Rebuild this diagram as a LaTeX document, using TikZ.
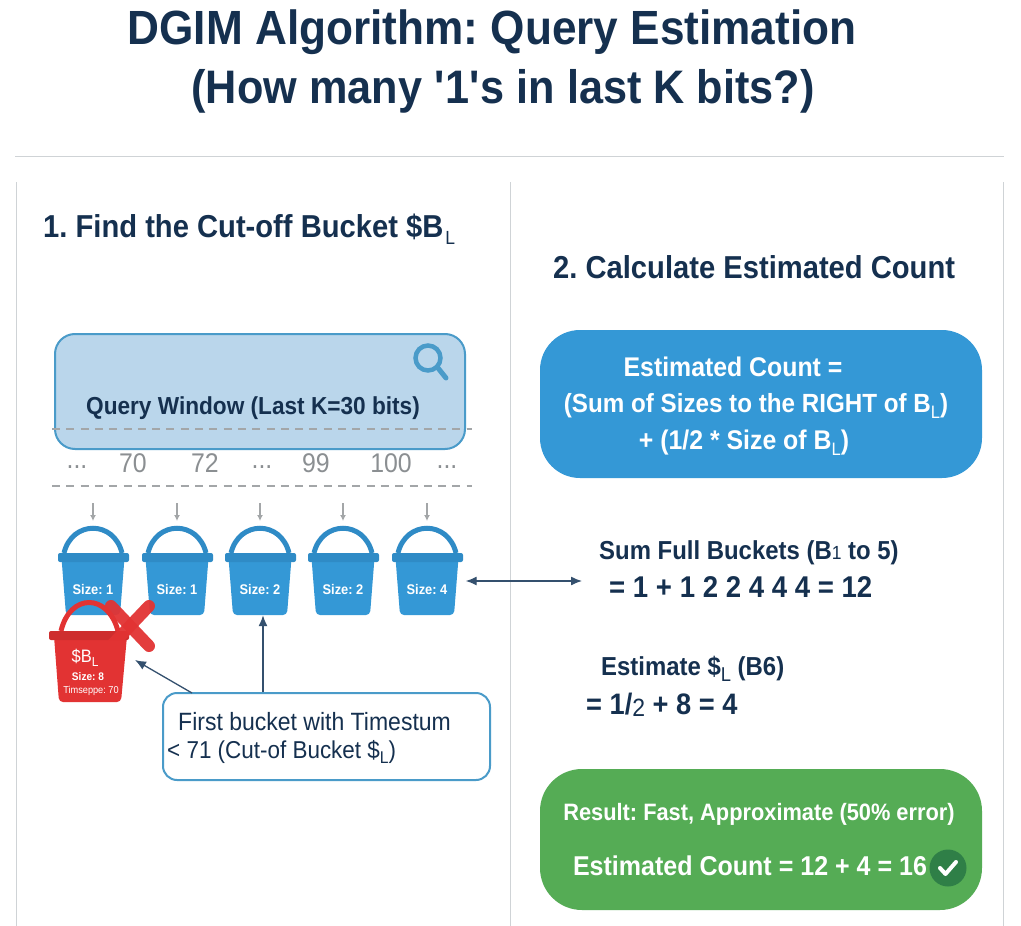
\documentclass[tikz,border=0pt]{standalone}
\usepackage{fontspec}
\setmainfont{Liberation Sans}[FakeStretch=0.92]
\frenchspacing
\usetikzlibrary{arrows.meta}
\definecolor{navy}{HTML}{15304F}
\definecolor{bluemain}{HTML}{3498D6}
\definecolor{bluedark}{HTML}{2F8BC6}
\definecolor{edgeblue}{HTML}{4A9BC9}
\definecolor{windowfill}{HTML}{BAD6EB}
\definecolor{greenmain}{HTML}{55AC55}
\definecolor{greendark}{HTML}{2F7F47}
\definecolor{redmain}{HTML}{E23333}
\definecolor{reddark}{HTML}{CE2E2E}
\definecolor{rulegrey}{HTML}{CFD3D6}
\definecolor{dashgrey}{HTML}{A3A6A8}
\definecolor{numgrey}{HTML}{8B8F92}
\definecolor{arrowblue}{HTML}{34506E}
\newcommand{\lowsub}[3]{\smash{\raisebox{-#1pt}{\fontsize{#2}{#2}\selectfont\mdseries #3}}}
\tikzset{
  x=1pt,y=-1pt,
  rulelin/.style={draw=rulegrey,line width=1pt},
  dashlin/.style={draw=dashgrey,line width=1.4pt,dash pattern=on 8pt off 6.3pt},
  numtext/.style={text=numgrey,font=\fontsize{27}{30}\selectfont,inner sep=0pt},
  headtext/.style={text=navy,font=\fontsize{31.7}{36}\selectfont\bfseries,inner sep=0pt,anchor=west},
  titletext/.style={text=navy,font=\fontsize{48}{52}\selectfont\bfseries,inner sep=0pt},
  whitetext/.style={text=white,font=\fontsize{27}{30}\selectfont\bfseries,inner sep=0pt},
  calctext/.style={text=navy,font=\fontsize{26}{30}\selectfont\bfseries,inner sep=0pt,anchor=west},
  greyarrow/.style={draw=dashgrey,line width=1.3pt,-{Latex[length=6pt,width=6pt]}},
  navyarrow/.style={draw=arrowblue,line width=1.3pt,-{Latex[length=11pt,width=9pt]}},
  bothway/.style={draw=arrowblue,line width=1.3pt,{Latex[length=11pt,width=9pt]}-{Latex[length=11pt,width=9pt]}},
  sizetext/.style={text=white,font=\fontsize{14}{15}\selectfont\bfseries,inner sep=0pt},
}
\newcommand{\drawbucket}[3]{%
  \fill[bluemain,rounded corners=4pt] (#1-31.5,558) -- (#1+31.5,558) -- (#1+27,615) -- (#1-27,615) -- cycle;
  \draw[bluedark,line width=5pt] (#1-29,553) .. controls (#1-21,520) and (#1+21,520) .. (#1+29,553);
  \fill[bluedark,rounded corners=2pt] (#1-35,553) rectangle (#1+36,562);
  \node[minimum width=71pt,minimum height=88pt,inner sep=0pt] (#2) at (#1,571) {};
  \node[sizetext] (#2t) at (#1,589) {Size: #3};
}
\begin{document}
\begin{tikzpicture}
\useasboundingbox (0,0) rectangle (1021,926);
\fill[white] (0,0) rectangle (1021,926);
% title
\node[titletext] (title1) at (492,32) {DGIM Algorithm: Query Estimation};
\node[titletext,font=\fontsize{47}{52}\selectfont\bfseries] (title2) at (503,91) {(How many \textquotesingle1\textquotesingle s in last K bits?)};
% rules
\draw[rulelin] (15,156) -- (1004,156);
\draw[rulelin] (16,182) -- (16,926);
\draw[rulelin] (510,182) -- (510,926);
\draw[rulelin] (1003,182) -- (1003,926);
% heads
\node[headtext] (headl) at (43,227) {1. Find the Cut-off Bucket \$B\kern2pt\lowsub{7}{19}{L}};
\node[headtext] (headr) at (553,267) {2. Calculate Estimated Count};
% window
\node[draw=edgeblue,fill=windowfill,line width=2pt,rounded corners=20pt,minimum width=410pt,minimum height=115pt,inner sep=0pt] (window) at (260,391.5) {};
\node[text=navy,font=\fontsize{24.6}{28}\selectfont\bfseries,inner sep=0pt] (windowt) at (253,408) {Query Window (Last K=30 bits)};
\draw[edgeblue,line width=4.5pt] (428,358) circle (12.5pt);
\draw[edgeblue,line width=5pt,line cap=round] (438,368) -- (446,378);
\draw[dashlin] (52,429) -- (472,429);
\draw[dashlin] (52,486) -- (472,486);
% numbers
\node[numtext] (d1) at (77,467) {...};
\node[numtext] (n70) at (133,463) {70};
\node[numtext] (n72) at (205,463) {72};
\node[numtext] (d2) at (262,467) {...};
\node[numtext] (n99) at (316,463) {99};
\node[numtext] (n100) at (391,463) {100};
\node[numtext] (d3) at (447,467) {...};
% buckets
\drawbucket{93}{ba}{1}
\drawbucket{177}{bb}{1}
\drawbucket{260}{bc}{2}
\drawbucket{343}{bd}{2}
\drawbucket{427}{be}{4}
\foreach \n/\xx in {ba/93,bb/177,bc/260,bd/343,be/427}{
  \coordinate (top\n) at (\xx,503);
  \draw[greyarrow] (top\n) -- (\xx,521);
}
% red bucket
\fill[redmain,rounded corners=4pt] (54,636) -- (127,636) -- (121,702) -- (59,702) -- cycle;
\draw[redmain,line width=5pt] (61,631) .. controls (70,593) and (108,593) .. (118,631);
\fill[reddark,rounded corners=2pt] (49,631) rectangle (129,640);
\node[minimum width=80pt,minimum height=72pt,inner sep=0pt] (red) at (89,666) {};
\node[text=white,font=\fontsize{18}{20}\selectfont,inner sep=0pt] (redl) at (85,656) {\$B\lowsub{4}{13}{L}};
\node[text=white,font=\fontsize{11}{12}\selectfont\bfseries,inner sep=0pt] (reds) at (88,677) {Size: 8};
\node[text=white,font=\fontsize{10}{11}\selectfont,inner sep=0pt] (redt) at (91,691) {Timseppe: 70};
% cross
\draw[redmain,line width=12pt,line cap=round,opacity=.95] (111,606) -- (149,646);
\draw[redmain,line width=12pt,line cap=round,opacity=.95] (149,606) -- (111,646);
% callout
\node[draw=edgeblue,fill=white,line width=2pt,rounded corners=14pt,minimum width=327pt,minimum height=87pt,inner sep=0pt] (call) at (326.5,736.5) {};
\node[text=navy,font=\fontsize{25}{28}\selectfont,inner sep=0pt,anchor=west] (callb) at (178,722) {First bucket with Timestum};
\node[text=navy,font=\fontsize{24.4}{28}\selectfont,inner sep=0pt,anchor=west] (callc) at (167,752) {< 71 (Cut-of Bucket \$\lowsub{5}{17}{L})};
\draw[navyarrow] (call.north -| 263,693) -- (bc.south -| 263,620);
\coordinate (callfoot) at (192,693);
\draw[navyarrow] (callfoot) -- (135,660);
% blue panel
\node[fill=bluemain,rounded corners=40pt,minimum width=442pt,minimum height=148pt,inner sep=0pt] (blue) at (761,404) {};
\node[whitetext] (bl1) at (733,367) {Estimated Count =};
\node[whitetext,font=\fontsize{26.3}{30}\selectfont\bfseries] (bl2) at (756,406) {(Sum of Sizes to the RIGHT of B\lowsub{6}{18}{L})};
\node[whitetext] (bl3) at (744,443) {+ (1/2 * Size of B\lowsub{6}{18}{L})};
% calc
\node[calctext] (s1) at (599,553) {Sum Full Buckets (B{\fontsize{19}{20}\selectfont\mdseries 1} to 5)};
\node[calctext,font=\fontsize{30}{32}\selectfont\bfseries] (s2) at (609,587) {= 1 + 1 2 2 4 4 4 = 12};
\node[calctext] (e1) at (601,669) {Estimate \$\lowsub{6}{20}{L} (B6)};
\node[calctext,font=\fontsize{29.6}{32}\selectfont\bfseries] (e2) at (586,704) {= 1/\lowsub{2}{25}{2} + 8 = 4};
\coordinate (sleft) at (582,581);
\draw[bothway] (be.east |- sleft) ++(3,0) -- (sleft);
% green panel
\node[fill=greenmain,rounded corners=42pt,minimum width=442pt,minimum height=141pt,inner sep=0pt] (green) at (761,839.5) {};
\node[text=white,font=\fontsize{23.7}{28}\selectfont\bfseries,inner sep=0pt] (g1) at (759,814) {Result: Fast, Approximate (50\% error)};
\node[text=white,font=\fontsize{27.2}{30}\selectfont\bfseries,inner sep=0pt] (g2) at (750,866) {Estimated Count = 12 + 4 = 16};
\node[circle,fill=greendark,minimum size=37pt,inner sep=0pt] (chk) at (948,868) {};
\draw[white,line width=4pt,line cap=round,line join=round] (940,868) -- (945.5,874) -- (956,862);
\end{tikzpicture}
\end{document}
